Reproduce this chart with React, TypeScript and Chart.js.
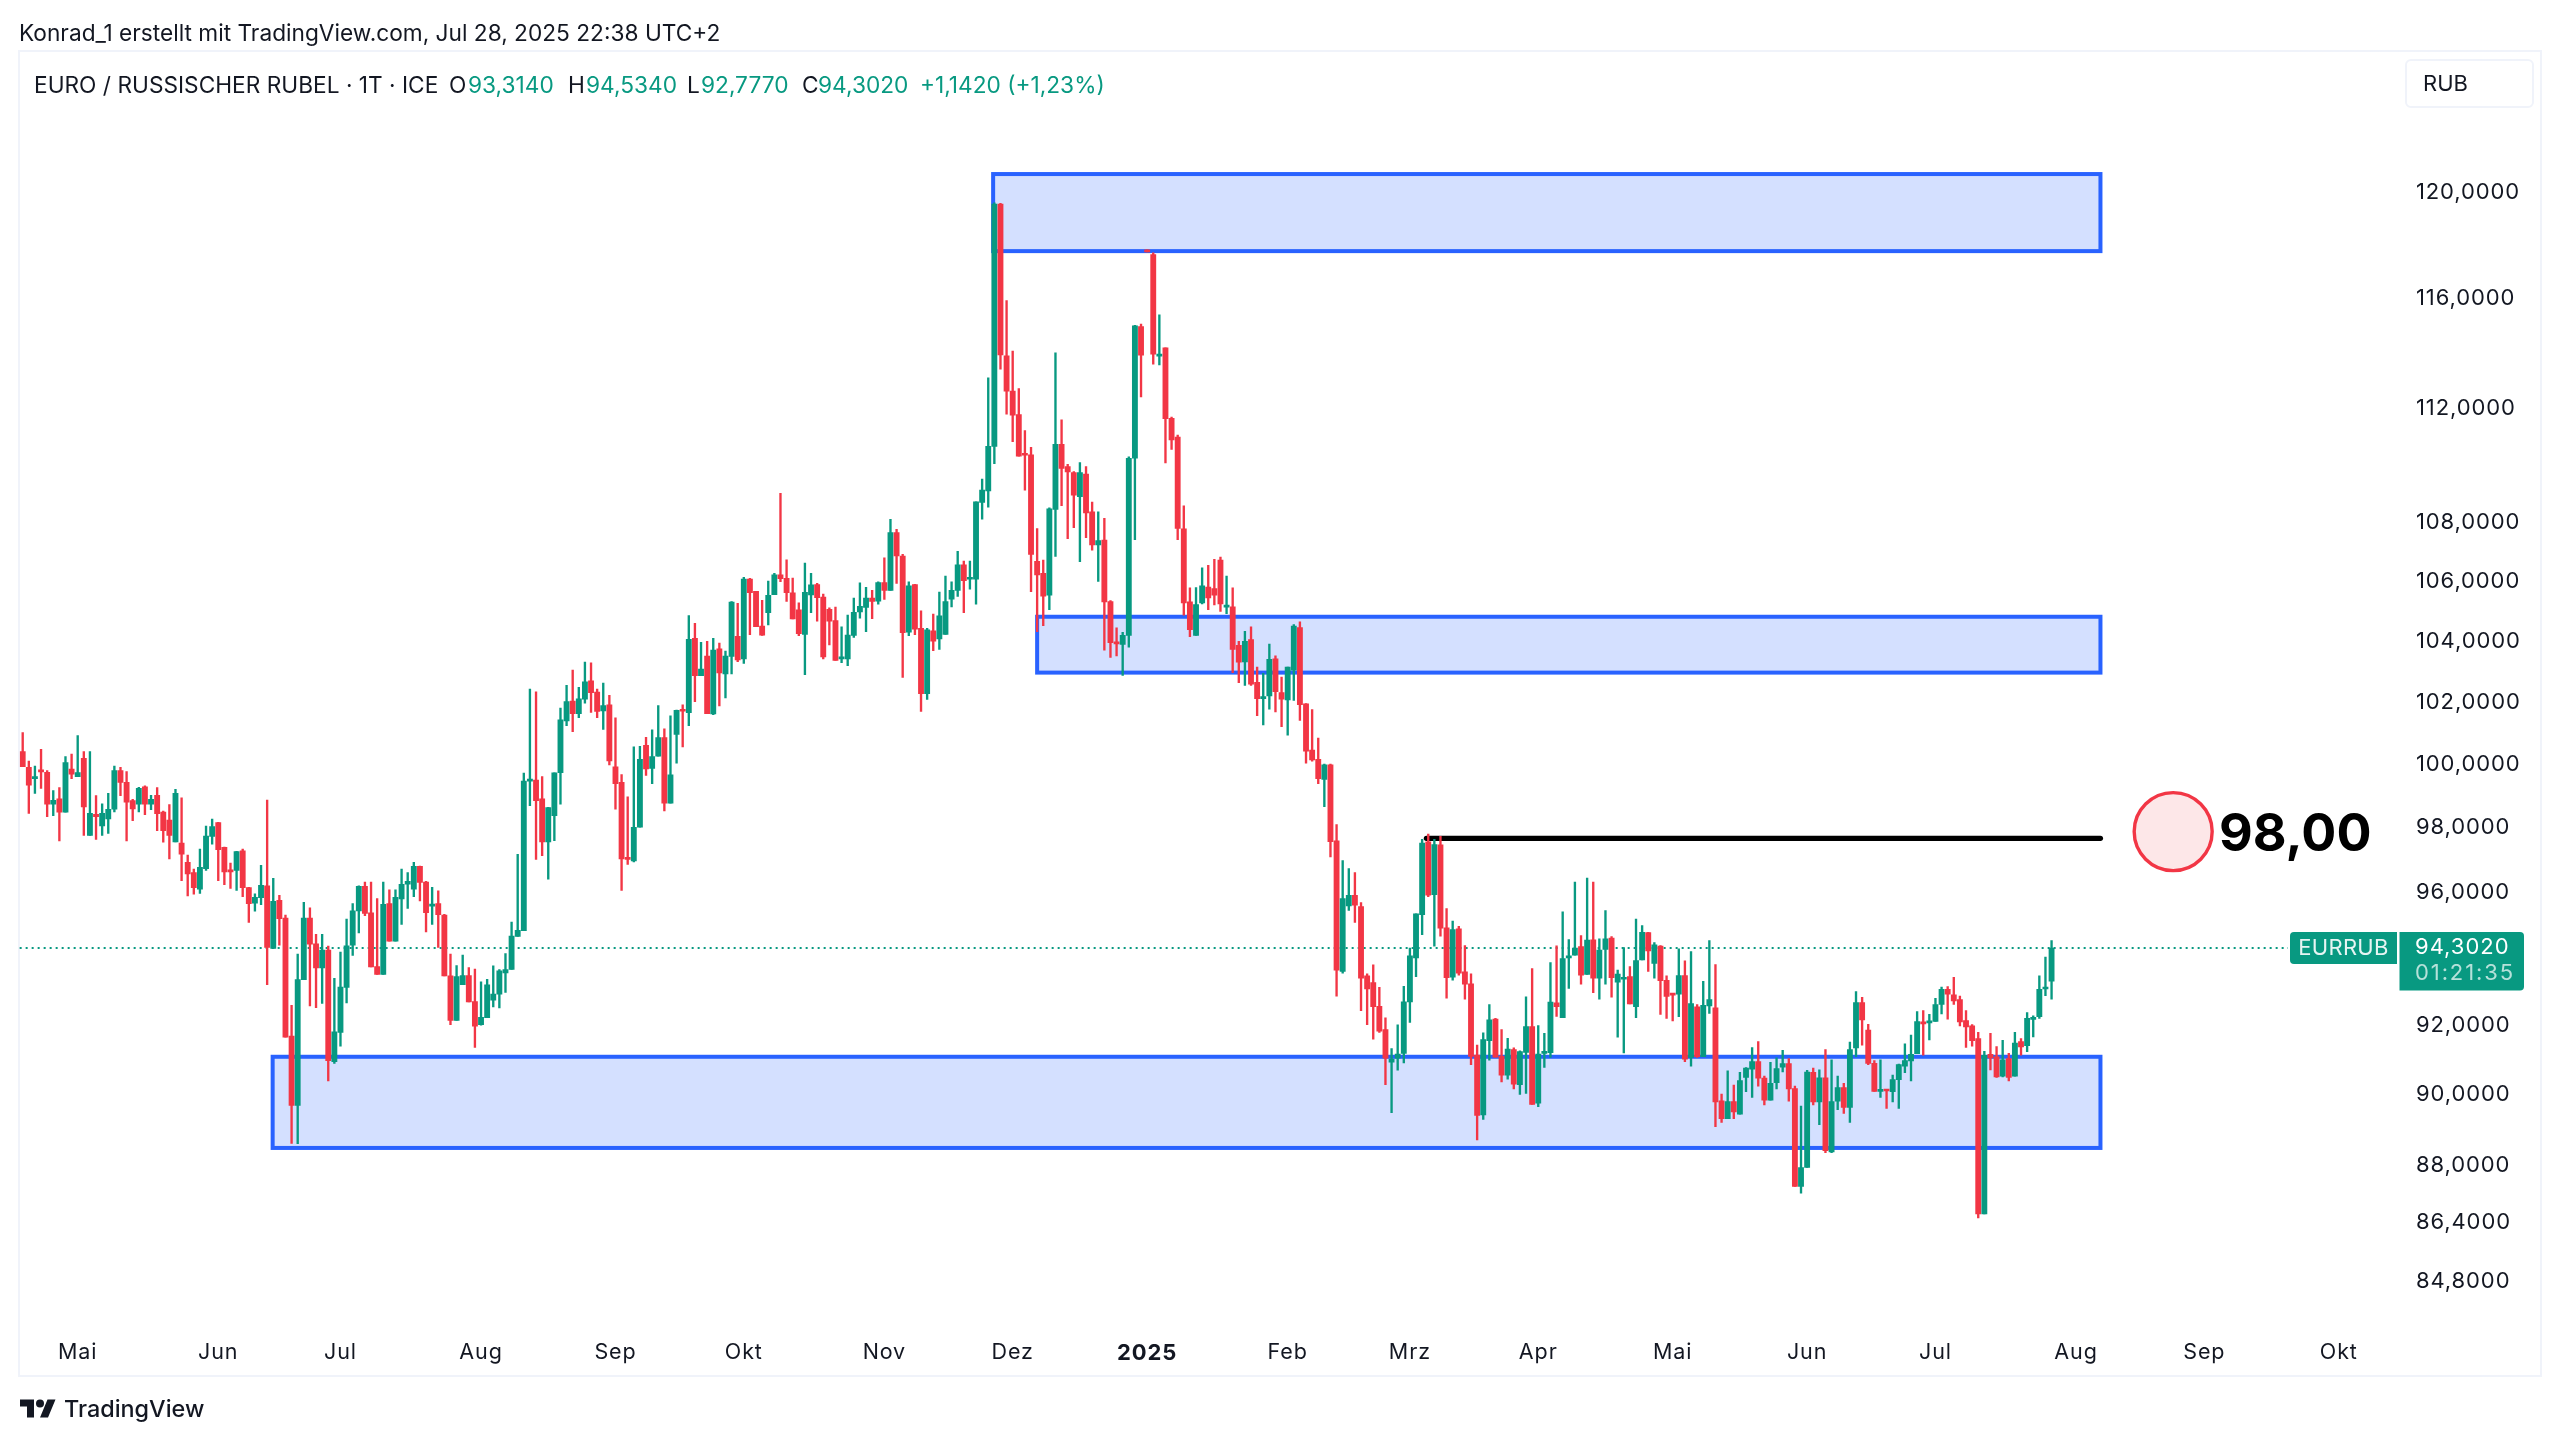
// App.tsx - EUR/RUB daily candles with zones, drawn with Chart.js bars
import React, { useEffect, useRef } from "react";
import { Chart, registerables } from "chart.js";

Chart.register(...registerables);

const opens = [
  100.40,99.90,99.54,99.79,99.74,98.73,98.90,98.48,99.84,99.60,
  100.18,97.75,98.41,98.05,98.27,98.57,99.79,99.42,98.84,98.73,
  99.28,98.73,99.01,98.48,98.23,97.55,97.51,96.92,96.60,96.09,
  96.72,97.72,98.15,97.38,96.67,96.67,97.27,96.14,95.66,95.83,
  96.19,94.29,95.75,95.21,91.69,89.69,93.36,95.21,94.43,93.71,
  94.24,90.95,91.80,93.13,94.39,95.43,96.18,95.37,93.75,93.51,
  95.65,94.51,95.79,96.24,96.09,96.79,96.31,95.57,95.65,95.30,
  93.47,92.15,93.21,93.48,92.71,92.03,92.23,92.75,92.93,93.56,
  93.66,94.65,94.83,99.46,99.49,98.90,97.55,98.37,99.73,101.39,
  102.03,101.62,102.09,102.69,102.32,101.71,101.91,99.91,99.42,97.04,
  96.96,98.01,100.60,99.86,100.25,100.85,98.76,100.95,101.73,101.65,
  104.09,102.86,103.50,101.61,103.74,102.92,103.49,104.16,103.41,106.08,
  105.66,104.50,104.95,105.55,106.22,106.10,105.61,105.04,104.22,105.54,
  105.89,105.47,105.06,104.68,103.41,103.41,104.19,104.97,105.12,105.44,
  105.33,105.96,105.69,107.66,106.86,104.30,105.89,104.42,102.27,104.34,
  104.07,104.22,105.40,105.69,106.56,106.07,106.07,108.70,109.10,110.66,
  119.55,113.90,112.63,111.79,110.39,110.36,106.68,106.27,105.53,108.46,
  110.73,109.95,109.74,108.90,109.69,108.38,107.24,107.40,105.32,103.94,
  103.89,104.19,110.25,114.97,117.82,117.64,113.89,114.19,111.66,110.99,
  107.79,105.31,104.19,105.27,105.81,105.76,106.72,105.13,105.14,103.86,
  103.31,104.05,102.64,102.11,102.20,103.41,102.31,102.07,103.04,104.45,
  101.94,100.45,100.15,99.51,99.98,97.58,93.60,95.58,95.90,95.56,
  93.47,93.27,92.57,91.88,90.93,91.05,91.19,92.70,94.01,95.31,
  97.55,95.92,97.46,94.91,93.43,94.88,93.59,93.23,91.14,89.42,
  91.56,92.19,91.10,90.56,91.30,90.28,91.22,91.97,89.75,91.19,
  91.21,92.67,92.23,94.01,94.09,94.35,93.51,94.55,93.40,94.26,
  94.60,93.28,93.37,93.45,92.56,93.95,94.77,93.84,94.36,93.34,
  92.93,92.93,93.48,91.07,92.55,91.09,92.58,92.52,89.82,89.31,
  89.80,89.44,90.49,90.73,90.95,90.47,89.84,90.34,90.79,90.89,
  90.17,87.40,87.93,90.64,89.79,90.48,88.37,89.81,90.20,89.63,
  91.35,92.68,91.87,90.90,90.09,90.12,90.08,90.43,90.82,90.97,
  91.18,92.08,92.08,92.12,92.62,93.07,92.91,92.77,92.15,91.99,
  91.62,86.64,91.16,91.09,90.53,91.04,90.53,91.53,91.41,92.18,
  92.26,93.08,93.31,
];

const highs = [
  101.01,100.10,99.94,100.47,99.79,99.16,99.25,100.24,100.32,100.91,
  100.40,100.40,99.00,98.74,99.07,99.94,99.90,99.76,98.88,99.26,
  99.31,99.01,99.25,98.51,98.72,99.20,98.93,97.14,96.71,97.33,
  98.04,98.26,98.16,97.39,96.89,97.26,97.33,96.15,95.95,96.82,
  98.86,96.42,95.90,95.30,92.60,94.12,95.69,95.52,94.72,94.72,
  94.36,93.40,94.18,95.18,95.65,96.19,96.31,96.31,95.80,96.31,
  96.07,96.07,96.71,96.60,96.92,96.80,96.33,96.15,96.04,95.32,
  94.12,93.78,94.09,93.72,93.67,93.29,93.37,93.77,93.66,94.14,
  95.09,97.16,99.71,102.42,102.33,99.60,98.63,99.72,101.80,102.54,
  103.04,102.48,103.31,103.28,102.42,102.62,102.22,101.49,99.67,98.96,
  100.55,100.57,100.86,101.10,101.88,101.13,101.55,101.74,101.91,104.85,
  104.59,103.96,103.99,104.09,103.93,103.67,105.32,105.26,106.14,106.10,
  105.66,105.36,106.01,106.27,109.02,106.73,106.11,105.28,106.62,106.27,
  105.93,105.57,105.11,105.13,104.47,104.87,105.44,105.95,105.80,105.70,
  105.98,106.80,108.12,107.77,106.92,105.98,105.90,105.01,104.42,104.90,
  105.64,106.18,105.98,107.02,106.69,106.69,108.72,109.51,113.11,119.60,
  119.58,115.93,114.08,112.72,111.22,110.63,107.80,106.72,108.51,114.01,
  111.60,110.03,109.78,110.09,109.95,108.71,108.38,108.15,105.35,104.44,
  104.29,110.29,115.02,115.06,117.82,117.71,115.40,114.19,111.70,111.06,
  108.58,105.78,105.79,106.46,106.54,106.75,106.82,106.18,105.78,103.99,
  104.32,104.47,103.14,102.94,103.90,103.51,102.81,103.14,104.55,104.64,
  101.95,101.75,100.83,100.00,100.00,98.09,96.97,96.72,96.60,95.68,
  93.53,93.80,93.13,92.23,91.33,92.02,93.16,94.30,95.34,97.63,
  97.79,97.63,97.72,95.50,95.12,94.96,94.38,93.53,91.43,91.79,
  92.62,92.21,91.88,91.63,91.35,91.26,92.85,93.69,92.00,91.77,
  93.87,94.37,95.40,94.56,96.31,94.68,96.43,96.31,94.58,95.44,
  94.65,93.64,94.32,93.75,95.18,94.98,94.78,94.47,94.38,93.47,
  92.94,94.28,93.92,94.20,92.62,93.31,94.53,93.81,90.01,90.68,
  90.27,90.64,90.78,91.36,91.53,90.53,90.93,91.06,91.28,91.04,
  90.24,89.67,90.70,90.76,90.71,91.30,91.00,90.53,90.32,91.52,
  93.00,92.83,92.04,90.98,91.00,90.14,90.56,90.88,91.47,91.72,
  92.41,92.44,92.33,92.80,93.14,93.15,93.43,92.87,92.44,92.03,
  91.80,91.25,91.77,91.39,91.57,91.19,91.80,91.62,92.38,92.29,
  93.47,94.03,94.53,
];

const lows = [
  99.92,98.44,99.07,99.23,98.34,98.37,97.58,98.48,99.54,99.60,
  97.75,97.75,97.63,97.75,97.81,98.49,99.00,97.58,98.21,98.49,
  98.40,98.56,97.90,97.54,97.02,97.55,96.35,95.88,95.94,95.96,
  96.67,97.48,96.35,96.23,96.11,96.05,95.86,95.08,95.42,95.62,
  93.21,94.29,94.39,91.66,88.61,88.60,93.36,92.58,92.53,92.65,
  90.39,90.90,91.40,92.67,94.08,94.76,95.28,93.74,93.51,93.51,
  94.51,94.51,95.02,95.50,95.86,95.73,94.79,95.02,94.32,93.47,
  92.03,92.15,93.21,92.70,91.36,92.01,92.23,92.55,92.52,92.98,
  93.66,94.65,94.83,98.68,97.01,97.12,96.40,97.59,98.73,101.23,
  101.04,101.49,101.96,101.66,101.49,101.11,99.97,98.57,96.05,96.85,
  96.93,98.01,99.64,99.38,100.25,98.52,98.76,100.03,100.55,101.23,
  102.01,102.86,101.62,101.59,101.87,102.13,102.92,103.32,103.26,104.21,
  104.48,104.19,104.54,105.55,105.99,105.32,104.74,104.18,102.89,104.95,
  104.66,103.41,103.87,103.36,103.29,103.19,104.12,104.76,104.31,104.75,
  105.23,105.39,105.69,105.93,102.80,104.18,104.21,101.69,102.08,103.68,
  103.72,104.22,105.14,105.49,104.95,105.74,105.23,108.12,108.54,110.05,
  113.42,111.80,110.83,110.32,109.13,105.65,104.31,104.51,105.05,106.85,
  108.59,107.45,107.83,106.67,107.49,107.06,106.00,103.70,103.46,103.51,
  102.87,103.80,107.42,112.42,117.74,113.60,113.57,110.08,110.55,107.42,
  104.86,104.15,104.19,105.24,105.05,105.21,104.99,104.91,102.96,102.63,
  102.54,102.54,101.56,101.26,101.77,101.68,101.20,100.93,102.05,101.40,
  100.03,100.09,99.38,98.65,97.08,92.87,93.55,95.44,95.08,92.44,
  92.03,91.60,91.80,90.28,89.48,90.70,90.91,92.09,93.45,94.71,
  95.86,94.36,94.66,92.81,93.34,93.49,92.78,90.86,88.71,89.29,
  90.99,91.08,90.36,90.44,90.16,90.00,90.03,89.72,89.65,90.78,
  91.07,92.27,92.23,93.10,94.09,93.22,93.51,92.97,92.78,93.22,
  92.84,91.66,91.20,92.64,92.23,93.95,93.60,93.40,92.33,92.21,
  92.14,92.26,90.95,90.82,91.07,91.09,92.36,89.08,89.20,89.31,
  89.31,89.44,90.08,89.92,90.24,89.70,89.84,90.16,90.65,89.81,
  87.40,87.21,87.93,89.70,89.14,88.35,88.35,89.57,89.46,89.20,
  91.09,91.43,90.86,90.09,89.92,89.60,89.79,89.60,90.63,90.39,
  91.18,91.14,91.58,92.12,92.34,92.19,92.62,91.99,91.36,91.40,
  86.53,86.64,90.71,90.49,90.51,90.39,90.53,91.14,91.24,91.67,
  92.21,92.88,92.78,
];

const closes = [
  99.92,99.33,99.58,99.75,98.73,98.85,98.48,100.05,99.68,99.73,
  98.64,98.44,98.34,98.44,98.57,99.79,99.42,98.79,98.58,99.23,
  98.73,98.88,98.43,97.90,97.75,99.07,97.17,96.56,96.14,96.76,
  97.73,98.03,97.31,96.62,96.62,97.25,96.14,95.65,95.84,96.21,
  94.32,95.72,95.19,91.66,89.69,93.36,95.21,94.42,93.71,94.24,
  90.98,91.82,93.14,94.37,95.43,96.18,95.35,93.74,93.51,95.63,
  94.51,95.84,96.24,96.33,96.79,96.30,95.37,95.63,95.31,93.47,
  92.15,93.45,93.48,92.70,91.98,92.24,93.20,92.93,93.62,93.66,
  94.66,94.84,99.46,99.50,98.84,97.55,98.62,99.72,101.42,102.01,
  101.62,102.10,102.66,102.30,101.69,101.88,100.10,99.38,97.02,97.01,
  98.00,100.15,99.85,100.24,100.85,98.76,99.66,101.73,101.70,104.06,
  102.86,103.08,101.62,103.70,102.95,103.50,105.30,103.38,106.08,105.62,
  104.48,104.20,105.53,106.22,106.09,105.62,104.74,104.25,105.63,105.88,
  105.45,103.48,104.66,103.36,103.45,104.20,104.96,105.16,105.44,105.32,
  105.96,105.69,107.66,106.86,104.28,105.85,104.40,102.27,104.37,104.00,
  104.84,105.32,105.70,106.56,106.02,106.10,108.72,109.13,110.66,119.55,
  113.94,112.63,111.77,110.32,110.35,106.91,106.22,105.50,108.48,110.73,
  109.89,109.76,108.95,109.74,108.34,107.24,107.39,105.31,103.95,103.91,
  104.19,110.24,115.00,113.93,117.74,113.96,113.93,111.64,110.89,107.80,
  105.27,104.38,105.22,105.85,105.44,105.53,105.24,105.18,103.72,103.30,
  103.99,102.58,102.11,102.18,103.40,102.34,102.09,103.14,104.50,101.91,
  100.41,100.13,99.54,99.98,97.56,93.64,95.80,95.90,95.60,93.40,
  93.08,92.56,91.84,91.05,91.02,91.17,92.70,94.07,95.34,97.51,
  95.91,97.47,94.90,93.42,94.86,93.55,93.22,91.10,89.40,91.59,
  92.17,91.08,90.56,91.31,90.30,91.24,91.97,89.72,91.17,91.23,
  92.69,92.56,93.99,94.07,94.30,93.49,94.54,93.40,94.24,94.58,
  93.42,93.52,93.43,92.64,93.93,94.78,94.22,94.40,93.33,92.86,
  92.90,93.48,91.02,92.65,91.09,92.60,92.77,89.79,89.31,89.80,
  89.50,90.40,90.76,90.95,90.47,89.84,90.32,90.75,90.89,90.16,
  87.40,87.93,90.65,89.79,90.48,88.40,89.80,90.20,89.63,91.30,
  92.68,92.17,90.90,90.09,90.12,90.10,90.43,90.86,90.98,91.16,
  92.12,92.05,92.12,92.62,93.07,92.93,92.73,92.11,91.96,91.56,
  86.64,91.13,91.06,90.51,91.00,90.49,91.49,91.38,92.21,92.24,
  93.07,93.14,94.30,
];

// empty bars on the right so the time axis runs on past the last candle
const BAR_SLOTS = 390;

const monthBars = [9, 32, 52, 75, 97, 118, 141, 162, 184, 207, 227, 248, 270, 292, 313, 336, 357, 379];
const monthLabels = ["Mai", "Jun", "Jul", "Aug", "Sep", "Okt", "Nov", "Dez", "2025", "Feb", "Mrz", "Apr", "Mai", "Jun", "Jul", "Aug", "Sep", "Okt"];

const priceTicks = [120, 116, 112, 108, 106, 104, 102, 100, 98, 96, 92, 90, 88, 86.4, 84.8];

const LAST_PRICE = 94.302;
const TARGET_PRICE = 97.66;

// drawings: bar index from/to, price from/to
const zoneFromBar = [158.8, 166, 40.9];
const zoneToBar = [340, 340, 340];
const zoneTop = [120.7, 104.81, 91.09];
const zoneBottom = [117.77, 102.96, 88.48];

const UP = "#089981";
const DOWN = "#f23645";
const BLUE = "#2962ff";
const FONT = "Inter, sans-serif";

const formatPrice = (v: number) => v.toFixed(4).replace(".", ",");

const drawingsPlugin = {
  id: "drawings",
  beforeDraw: (chart: Chart) => {
    const ctx: any = chart.ctx;
    ctx.fillStyle = "#ffffff";
    ctx.fillRect(0, 0, chart.width, chart.height);
    ctx.strokeStyle = "#f0f3fa";
    ctx.lineWidth = 2;
    ctx.strokeRect(19, 51, 2522, 1325);
    // axis text in the reference is set wider than Inter
    ctx.letterSpacing = "0.9px";
  },
  beforeDatasetsDraw: (chart: Chart) => {
    const ctx: any = chart.ctx;
    const { scales, chartArea } = chart;
    const x = scales.x;
    const y = scales.y;
    ctx.save();

    // last price line
    ctx.strokeStyle = UP;
    ctx.lineWidth = 2;
    ctx.setLineDash([2, 4]);
    ctx.beginPath();
    ctx.moveTo(chartArea.left, y.getPixelForValue(LAST_PRICE));
    ctx.lineTo(2288, y.getPixelForValue(LAST_PRICE));
    ctx.stroke();
    ctx.setLineDash([]);

    // supply and demand zones
    zoneFromBar.forEach((from, i) => {
      const left = x.getPixelForValue(from);
      const right = x.getPixelForValue(zoneToBar[i]);
      const top = y.getPixelForValue(zoneTop[i]);
      const bottom = y.getPixelForValue(zoneBottom[i]);
      ctx.fillStyle = "rgba(41, 98, 255, 0.2)";
      ctx.fillRect(left, top, right - left, bottom - top);
      ctx.strokeStyle = BLUE;
      ctx.lineWidth = 4;
      ctx.strokeRect(left, top, right - left, bottom - top);
    });

    // target line
    ctx.strokeStyle = "#000000";
    ctx.lineWidth = 5.2;
    ctx.lineCap = "round";
    ctx.beginPath();
    ctx.moveTo(x.getPixelForValue(229.7), y.getPixelForValue(TARGET_PRICE));
    ctx.lineTo(x.getPixelForValue(340), y.getPixelForValue(TARGET_PRICE));
    ctx.stroke();

    // target marker
    ctx.beginPath();
    ctx.arc(x.getPixelForValue(351.9), y.getPixelForValue(97.87), 39, 0, Math.PI * 2);
    ctx.fillStyle = "rgba(242, 54, 69, 0.12)";
    ctx.fill();
    ctx.strokeStyle = DOWN;
    ctx.lineWidth = 3.4;
    ctx.stroke();

    ctx.letterSpacing = "0px";
    ctx.fillStyle = "#000000";
    ctx.font = `700 52px ${FONT}`;
    ctx.textAlign = "left";
    ctx.textBaseline = "alphabetic";
    ctx.fillText("98,00", 2219, 851);
    ctx.restore();
  },
  afterDraw: (chart: Chart) => {
    const ctx: any = chart.ctx;
    const py = chart.scales.y.getPixelForValue(LAST_PRICE);
    ctx.save();
    // price label on the axis
    ctx.fillStyle = UP;
    ctx.beginPath();
    ctx.roundRect(2290, py - 16, 107, 32, [4, 0, 0, 4]);
    ctx.fill();
    ctx.beginPath();
    ctx.roundRect(2399.5, py - 16, 124.5, 58.5, [0, 4, 4, 0]);
    ctx.fill();
    ctx.font = `400 22px ${FONT}`;
    ctx.textBaseline = "middle";
    ctx.textAlign = "center";
    ctx.letterSpacing = "0.3px";
    ctx.fillStyle = "rgba(255, 255, 255, 0.9)";
    ctx.fillText("EURRUB", 2343.5, py + 0.5);
    ctx.textAlign = "left";
    ctx.letterSpacing = "1px";
    ctx.fillStyle = "#ffffff";
    ctx.fillText(formatPrice(LAST_PRICE), 2415, py - 1);
    ctx.letterSpacing = "1.9px";
    ctx.fillStyle = "rgba(255, 255, 255, 0.7)";
    ctx.fillText("01:21:35", 2415, py + 25);
    ctx.restore();
  },
};

const legendParts = [
  { text: "EURO / RUSSISCHER RUBEL · 1T · ICE", left: 34, color: "#131722" },
  { text: "O", left: 449, color: "#131722" },
  { text: "93,3140", left: 468, color: UP },
  { text: "H", left: 568, color: "#131722" },
  { text: "94,5340", left: 586, color: UP },
  { text: "L", left: 687, color: "#131722" },
  { text: "92,7770", left: 701, color: UP },
  { text: "C", left: 802, color: "#131722" },
  { text: "94,3020", left: 818, color: UP },
  { text: "+1,1420 (+1,23%)", left: 920, color: UP },
];

const textStyle = (left: number, top: number, size: number, color: string): React.CSSProperties => ({
  position: "absolute",
  left,
  top,
  fontFamily: FONT,
  fontSize: size,
  color,
  lineHeight: "30px",
  whiteSpace: "nowrap",
});

export default function App() {
  const canvasRef = useRef<HTMLCanvasElement | null>(null);

  useEffect(() => {
    const ctx = canvasRef.current?.getContext("2d");
    if (!ctx) return;

    const labels = Array.from({ length: BAR_SLOTS }, (_, i) => String(i));
    const barColors = closes.map((c, i) => (c >= opens[i] ? UP : DOWN));

    const chart = new Chart(ctx, {
      type: "bar",
      data: {
        labels,
        datasets: [
          {
            label: "Wick",
            data: lows.map((l, i) => [l, highs[i]]),
            backgroundColor: barColors,
            barThickness: 1.7,
            grouped: false,
          },
          {
            label: "Body",
            data: opens.map((o, i) => [o, closes[i]]),
            backgroundColor: barColors,
            barThickness: 5.2,
            minBarLength: 2,
            grouped: false,
          },
        ] as any,
      },
      options: {
        responsive: false,
        devicePixelRatio: 1,
        animation: false,
        layout: { padding: { left: 19.65, top: 51, right: 0, bottom: 0 } },
        plugins: { legend: { display: false }, tooltip: { enabled: false } },
        scales: {
          x: {
            offset: true,
            grid: { display: false, drawTicks: false },
            border: { display: false },
            afterFit: (scale: any) => {
              scale.height = 113;
            },
            afterBuildTicks: (scale: any) => {
              scale.ticks = monthBars.map((value) => ({ value }));
            },
            ticks: {
              autoSkip: false,
              maxRotation: 0,
              padding: 10,
              color: "#131722",
              callback: (value: any) => monthLabels[monthBars.indexOf(Number(value))],
              font: (c: any) => ({
                family: FONT,
                size: monthLabels[c.index] === "2025" ? 22 : 21.5,
                weight: monthLabels[c.index] === "2025" ? "bold" : "normal",
              }),
            },
          },
          y: {
            type: "logarithmic",
            position: "right",
            min: 83.49,
            max: 125.53,
            bounds: "data",
            grid: { display: false, drawTicks: false },
            border: { display: false },
            afterFit: (scale: any) => {
              scale.width = 157.05;
            },
            afterBuildTicks: (scale: any) => {
              scale.ticks = priceTicks.map((value) => ({ value }));
            },
            ticks: {
              autoSkip: false,
              padding: 13,
              color: "#131722",
              font: { family: FONT, size: 22 },
              callback: (value: any) => formatPrice(Number(value)),
            },
          },
        },
      } as any,
      plugins: [drawingsPlugin],
    });

    return () => {
      chart.destroy();
    };
  }, []);

  return (
    <div style={{ position: "fixed", left: 0, top: 0, width: 2560, height: 1443, background: "#fff" }}>
      <canvas ref={canvasRef} width={2560} height={1443} style={{ display: "block", width: 2560, height: 1443 }} />
      <div style={textStyle(19, 18, 22.7, "#131722")}>
        Konrad_1 erstellt mit TradingView.com, Jul 28, 2025 22:38 UTC+2
      </div>
      {legendParts.map((p) => (
        <div key={p.left} style={textStyle(p.left, 70, 22.7, p.color)}>
          {p.text}
        </div>
      ))}
      <div
        style={{
          position: "absolute",
          left: 2405,
          top: 59,
          width: 129,
          height: 49,
          border: "2px solid #f0f3fa",
          borderRadius: 6,
          boxSizing: "border-box",
        }}
      />
      <div style={textStyle(2423, 68, 22, "#131722")}>RUB</div>
      <svg
        viewBox="0 4 36 18"
        style={{ position: "absolute", left: 20, top: 1399, width: 36, height: 19 }}
        aria-hidden="true"
      >
        <path d="M14 22H7V11H0V4h14v18zM28 22h-8l7.5-18h8L28 22z" fill="#131722" />
        <circle cx="20" cy="8" r="4" fill="#131722" />
      </svg>
      <div style={{ ...textStyle(64, 1394, 23.4, "#131722"), fontWeight: 500 }}>TradingView</div>
    </div>
  );
}
